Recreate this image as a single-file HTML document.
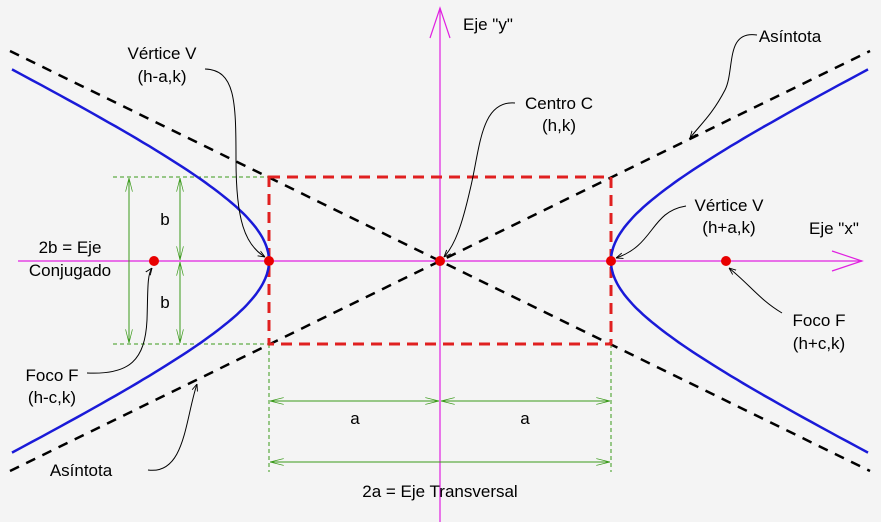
<!DOCTYPE html>
<html><head><meta charset="utf-8"><style>
html,body{margin:0;padding:0;background:#f4f4f4}
svg{display:block}
text{font-family:"Liberation Sans",Arial,sans-serif;font-size:17px;fill:#000}
</style></head><body>
<svg id="s" width="881" height="522" viewBox="0 0 881 522" xmlns="http://www.w3.org/2000/svg">
<rect width="881" height="522" fill="#f4f4f4"/>
<defs>
<marker id="ah" viewBox="0 0 10 10" refX="10" refY="5" markerWidth="7" markerHeight="7" orient="auto"><path d="M0,1 L10,5 L0,9" fill="none" stroke="#000" stroke-width="1.3"/></marker>
<marker id="ga" viewBox="0 0 20 10" refX="20" refY="5" markerWidth="14" markerHeight="7" markerUnits="userSpaceOnUse" orient="auto-start-reverse"><path d="M0,0 L20,5 L0,10" fill="none" stroke="#3a9a1a" stroke-width="1"/></marker>
</defs>
<line x1="18" y1="261" x2="862" y2="261" stroke="#e020e0" stroke-width="1.2"/>
<path d="M832,251 L862,261 L832,271" fill="none" stroke="#e020e0" stroke-width="1.2"/>
<line x1="440" y1="8" x2="440" y2="522" stroke="#e020e0" stroke-width="1.2"/>
<path d="M430,38 L440,8 L450,38" fill="none" stroke="#e020e0" stroke-width="1.2"/>
<g stroke="#3a9a1a" stroke-width="1" stroke-dasharray="4,3" fill="none">
<line x1="113" y1="177" x2="269" y2="177"/><line x1="113" y1="344" x2="269" y2="344"/>
<line x1="269" y1="344" x2="269" y2="472"/><line x1="611" y1="344" x2="611" y2="472"/>
</g>
<g stroke="#3a9a1a" stroke-width="1" fill="none">
<line x1="129" y1="178" x2="129" y2="343" marker-start="url(#ga)" marker-end="url(#ga)"/>
<line x1="180" y1="178" x2="180" y2="260" marker-start="url(#ga)" marker-end="url(#ga)"/>
<line x1="180" y1="262" x2="180" y2="343" marker-start="url(#ga)" marker-end="url(#ga)"/>
<line x1="270" y1="401" x2="439" y2="401" marker-start="url(#ga)" marker-end="url(#ga)"/>
<line x1="441" y1="401" x2="610" y2="401" marker-start="url(#ga)" marker-end="url(#ga)"/>
<line x1="270" y1="462" x2="610" y2="462" marker-start="url(#ga)" marker-end="url(#ga)"/>
</g>
<g stroke="#000" stroke-width="2.5" stroke-dasharray="10,8">
<line x1="10" y1="51" x2="870" y2="471"/>
<line x1="10" y1="471" x2="870" y2="51"/>
</g>
<rect x="269" y="177" width="342" height="167" fill="none" stroke="#e02020" stroke-width="3" stroke-dasharray="11,7"/>
<path id="hl" fill="none" stroke="#1a1ad8" stroke-width="2.5"/>
<path id="hr" fill="none" stroke="#1a1ad8" stroke-width="2.5"/>
<g fill="#e80000"><circle cx="154" cy="261" r="5"/><circle cx="269" cy="261" r="5"/><circle cx="440" cy="261" r="5"/><circle cx="611" cy="261" r="5"/><circle cx="726" cy="261" r="5"/></g>
<g fill="none" stroke="#000" stroke-width="1" marker-end="url(#ah)">
<path d="M205,69 C235,70 236,100 236,160 C236,220 245,245 265,257"/>
<path d="M515,103 C480,100 480,150 470,190 C462,225 455,245 444,257"/>
<path d="M757,35 C725,30 735,70 725,90 C712,115 700,125 690,138"/>
<path d="M686,206 C650,212 655,245 616,258"/>
<path d="M782,313 C760,300 750,285 729,268"/>
<path d="M87,373 C130,375 145,360 147,320 C148,290 147,275 152,268"/>
<path d="M148,470 C185,475 185,420 197,384"/>
</g>
<text x="463" y="30">Eje "y"</text>
<text x="162" y="59" text-anchor="middle">Vértice V</text>
<text x="162" y="82" text-anchor="middle">(h-a,k)</text>
<text x="559" y="109" text-anchor="middle">Centro C</text>
<text x="559" y="131" text-anchor="middle">(h,k)</text>
<text x="790" y="42" text-anchor="middle">Asíntota</text>
<text x="729" y="211" text-anchor="middle">Vértice V</text>
<text x="729" y="233" text-anchor="middle">(h+a,k)</text>
<text x="809" y="234">Eje "x"</text>
<text x="70" y="253" text-anchor="middle">2b = Eje</text>
<text x="70" y="276" text-anchor="middle">Conjugado</text>
<text x="165" y="225" text-anchor="middle">b</text>
<text x="165" y="308" text-anchor="middle">b</text>
<text x="52" y="381" text-anchor="middle">Foco F</text>
<text x="52" y="403" text-anchor="middle">(h-c,k)</text>
<text x="819" y="326" text-anchor="middle">Foco F</text>
<text x="819" y="349" text-anchor="middle">(h+c,k)</text>
<text x="81" y="476" text-anchor="middle">Asíntota</text>
<text x="355" y="424" text-anchor="middle">a</text>
<text x="525" y="424" text-anchor="middle">a</text>
<text x="440" y="497" text-anchor="middle">2a = Eje Transversal</text>
</svg>
<script>
(function(){
var h=440,k=261,a=171,b=83.5,T=Math.acosh(428/171);
function br(s){var p=[];for(var i=-60;i<=60;i++){var t=T*i/60;p.push((h+s*a*Math.cosh(t)).toFixed(1)+','+(k+b*Math.sinh(t)).toFixed(1));}return 'M'+p.join(' L');}
document.getElementById('hl').setAttribute('d',br(-1));
document.getElementById('hr').setAttribute('d',br(1));
})();
</script>
</body></html>
